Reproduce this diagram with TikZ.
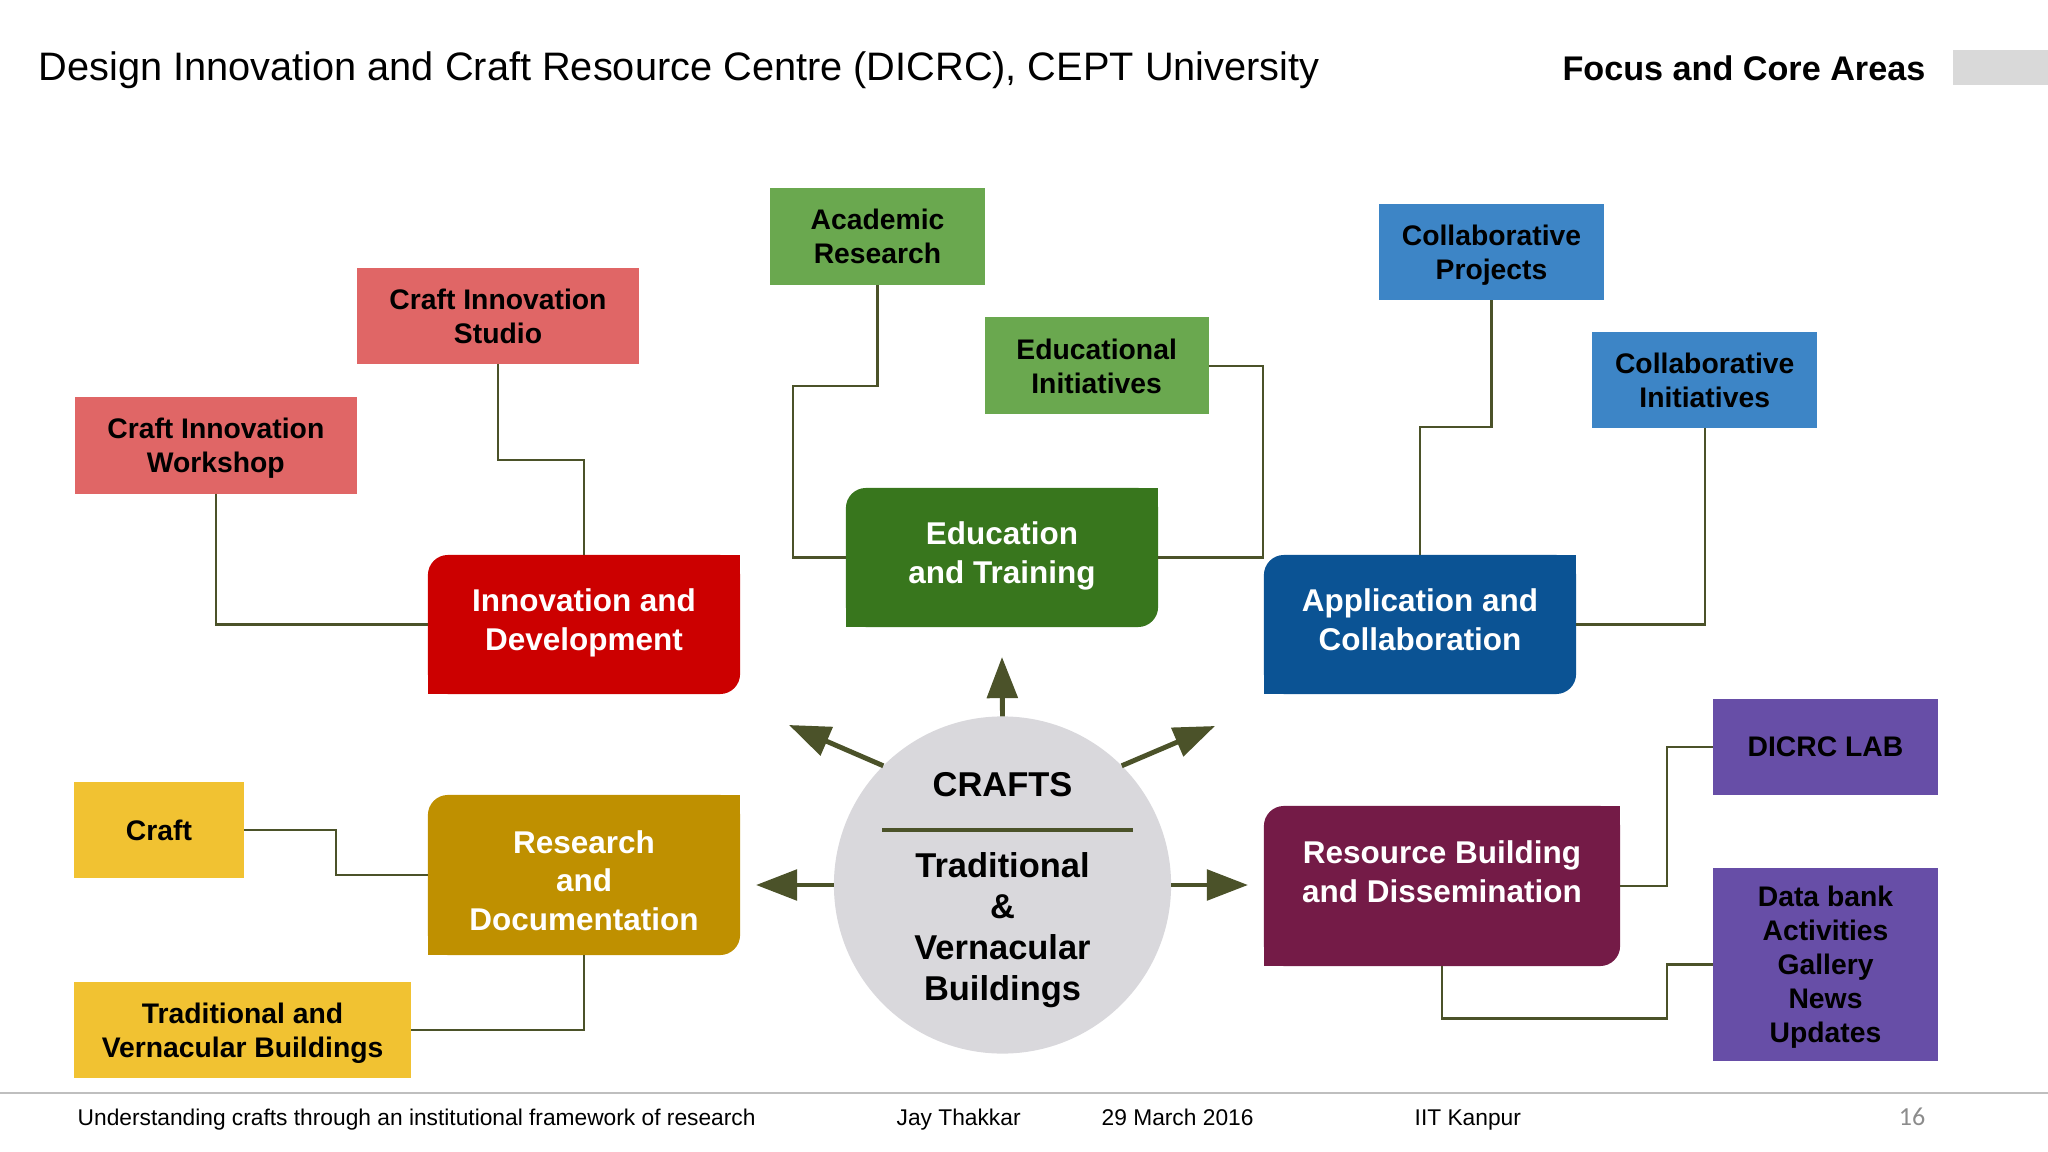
\documentclass[tikz,border=0pt]{standalone}
\usepackage{fontspec}
\setmainfont{Liberation Sans}
\newfontfamily\pagefont{Carlito}
\usetikzlibrary{positioning,arrows.meta}
\definecolor{linkolive}{HTML}{4B5229}
\definecolor{hubgrey}{HTML}{D9D8DC}
\definecolor{tabgrey}{HTML}{D9D9D9}
\definecolor{rulegrey}{HTML}{BFBFBF}
\definecolor{pagegrey}{HTML}{8C8C8C}
\definecolor{innovred}{HTML}{CC0000}
\definecolor{leafred}{HTML}{E06666}
\definecolor{edugreen}{HTML}{38761D}
\definecolor{leafgreen}{HTML}{6AA84F}
\definecolor{appblue}{HTML}{0B5394}
\definecolor{leafblue}{HTML}{3D85C6}
\definecolor{resgold}{HTML}{BF9000}
\definecolor{leafyellow}{HTML}{F1C232}
\definecolor{resmaroon}{HTML}{741B47}
\definecolor{leafpurple}{HTML}{674EA7}
\begin{document}
\begin{tikzpicture}[x=0.01cm,y=-0.01cm]
\tikzset{mainbox/.style={rounded corners=0.2cm,inner sep=0pt,outer sep=0pt,align=center,text=white,text depth=2.7pt,
    minimum width=3.12cm,minimum height=1.39cm,font=\fontsize{8.95}{10.95}\selectfont\bfseries}}
\tikzset{leafbox/.style={inner sep=0pt,outer sep=0pt,align=center,text=black,text depth=0pt,
    minimum height=0.965cm,font=\fontsize{8.05}{9.67}\selectfont\bfseries}}
\tikzset{hubtext/.style={inner sep=0pt,align=center,font=\fontsize{9.8}{11.6}\selectfont\bfseries}}
\tikzset{link/.style={draw=linkolive,line width=0.6pt}}
\tikzset{spoke/.style={draw=linkolive,line width=1.4pt,-{Triangle[length=11.7pt,width=8.6pt]}}}
\tikzset{foottext/.style={inner sep=0pt,anchor=base west,font=\fontsize{6.47}{8}\selectfont}}
\useasboundingbox (0,0) rectangle (2048,1152);
\node[inner sep=0pt,anchor=west,font=\fontsize{11.3}{14}\selectfont] (title) at (38,70)
    {Design Innovation and Craft Resource Centre (DICRC), CEPT University};
\node[inner sep=0pt,anchor=east,font=\fontsize{9.72}{12}\selectfont\bfseries] (focus) at (1926,68) {Focus and Core Areas};
\node[fill=tabgrey,inner sep=0pt,anchor=north west,minimum width=1.17cm,minimum height=0.35cm] (tab) at (1952,49) {};
% main boxes
\node[mainbox,fill=innovred] (innovdev) at (584,624.5) {Innovation and\\Development};
\node[mainbox,fill=edugreen] (education) at (1002,557.5) {Education\\and Training};
\node[mainbox,fill=appblue] (appcollab) at (1420,624.5) {Application and\\Collaboration};
\node[mainbox,fill=resgold,minimum height=1.6cm,text depth=0pt] (research) at (584,875) {\mbox{}\\[-1.5pt]Research\\and\\Documentation};
\node[mainbox,fill=resmaroon,minimum width=3.56cm,minimum height=1.6cm,text depth=8.2pt] (resource) at (1442,886) {Resource Building\\and Dissemination};
\foreach \boxname/\boxcol in {innovdev/innovred,education/edugreen,appcollab/appblue,research/resgold,resource/resmaroon}{
  \fill[\boxcol] (\boxname.north east) rectangle ++(-24,24);
  \fill[\boxcol] (\boxname.south west) rectangle ++(24,-24);
}
% leaves
\node[leafbox,fill=leafred,minimum width=2.82cm] (studio) at (498,316) {Craft Innovation\\Studio};
\node[leafbox,fill=leafred,minimum width=2.82cm,below left=9.3pt and 0pt of studio.south west] (workshop) {Craft Innovation\\Workshop};
\node[leafbox,fill=leafgreen,minimum width=2.14cm] (academic) at (877.5,236.5) {Academic\\Research};
\node[leafbox,fill=leafgreen,minimum width=2.24cm,below right=9.3pt and 0pt of academic.south east] (eduinit) {Educational\\Initiatives};
\node[leafbox,fill=leafblue,minimum width=2.25cm] (projects) at (1491.5,252) {Collaborative\\Projects};
\node[leafbox,fill=leafblue,minimum width=2.25cm,below right=9pt and -3.4pt of projects.south east] (collabinit) {Collaborative\\Initiatives};
\node[leafbox,fill=leafyellow,minimum width=1.70cm] (craft) at (159,830) {Craft};
\node[leafbox,fill=leafyellow,minimum width=3.37cm,below right=29.4pt and 0pt of craft.south west] (tradbuild) {Traditional and\\Vernacular Buildings};
\node[leafbox,fill=leafpurple,minimum width=2.25cm] (lab) at (1825.5,747) {DICRC LAB};
\node[leafbox,fill=leafpurple,minimum width=2.25cm,minimum height=1.92cm,below=20.8pt of lab] (databank) {Data bank\\Activities\\Gallery\\News\\Updates};
% links
\draw[link] (workshop.south) |- (innovdev.west);
\draw[link] (studio.south) -- ++(0,95.5) -| (innovdev.north);
\draw[link] (academic.south) -- ++(0,101) -- ++(-84.5,0) |- (education.west);
\draw[link] (eduinit.east) -- ++(54,0) |- (education.east);
\draw[link] (projects.south) -- ++(0,127) -| (appcollab.north);
\draw[link] (collabinit.south) |- (appcollab.east);
\draw[link] (craft.east) -- ++(92,0) |- (research.west);
\draw[link] (tradbuild.east) -| (research.south);
\draw[link] (resource.east) -- ++(47,0) |- (lab.west);
\draw[link] (resource.south) -- ++(0,52.5) -- ++(225,0) |- (databank.west);
% hub
\node[circle,fill=hubgrey,inner sep=0pt,outer sep=0pt,minimum size=3.37cm] (crafts) at (1002.5,885) {};
\node[hubtext] (craftstitle) at (1002.5,785) {CRAFTS};
\node[hubtext] (craftssub) at (1002.5,930) {Traditional\\\&\\Vernacular\\Buildings};
\coordinate (ruleleft) at (882,830);
\coordinate (ruleright) at (1133,830);
\draw[draw=linkolive,line width=1.4pt] (ruleleft) -- (ruleright);
\coordinate (tipup) at (1002,657);
\coordinate (tipleft) at (756,885);
\coordinate (tipright) at (1248,885);
\coordinate (tipupleft) at (789,725);
\coordinate (tipupright) at (1215,726);
\draw[spoke] (crafts.north) -- (tipup);
\draw[spoke] (crafts.west) -- (tipleft);
\draw[spoke] (crafts.east) -- (tipright);
\draw[spoke] (crafts.135) -- (tipupleft);
\draw[spoke] (crafts.45) -- (tipupright);
% footer
\coordinate (footleft) at (0,1093);
\coordinate (footright) at (2048,1093);
\draw[draw=rulegrey,line width=0.7pt] (footleft) -- (footright);
\node[foottext] (foottopic) at (77,1125) {Understanding crafts through an institutional framework of research};
\node[foottext] (footname) at (896,1125) {Jay Thakkar};
\node[foottext] (footdate) at (1101,1125) {29 March 2016};
\node[foottext] (footplace) at (1414,1125) {IIT Kanpur};
\node[inner sep=0pt,anchor=base east,text=pagegrey,font=\fontsize{7.4}{9}\selectfont\pagefont] (pagenum) at (1926,1125) {16};
\end{tikzpicture}
\end{document}
